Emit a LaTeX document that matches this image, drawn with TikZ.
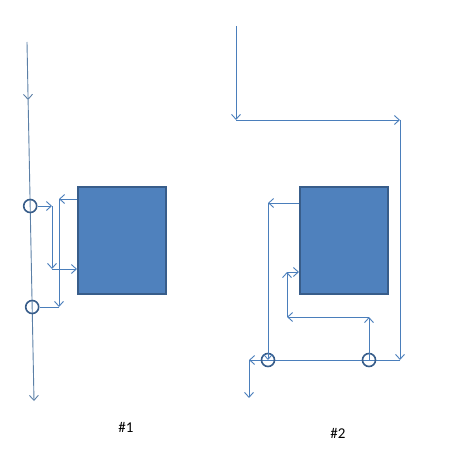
\documentclass[tikz,border=0pt]{standalone}
\usepackage{fontspec}
\setmainfont{Carlito}
\usetikzlibrary{arrows.meta}
\definecolor{boxfill}{HTML}{4F81BD}
\definecolor{boxline}{HTML}{385D8A}
\definecolor{connc}{HTML}{4A7EBB}
\definecolor{mainc}{HTML}{5B7FA6}
\tikzset{
  blk/.style={draw=boxline, fill=boxfill, line width=1.5pt, minimum width=88pt, minimum height=107pt, inner sep=0pt, anchor=north west},
  ring/.style={circle, draw=boxline, line width=1.6pt, minimum size=13pt, inner sep=0pt},
  conn/.style={draw=connc, line width=0.9pt},
  tip/.style={conn, -{Straight Barb[length=5pt,width=9pt]}},
  lbl/.style={font=\fontsize{15}{18}\selectfont, text=black}
}
\begin{document}
\begin{tikzpicture}[x=1pt,y=-1pt]
\useasboundingbox (0,0) rectangle (454,468);
% diagram 1
\node[blk] (r1) at (77,186) {};
\coordinate (t1) at (27,42);
\coordinate (m1) at (28.1,100);
\coordinate (b1) at (34,401);
\draw[tip, draw=mainc] (t1) -- (m1);
\draw[tip, draw=mainc] (m1) -- (b1);
\node[ring] (c1) at (30.2,206) {};
\node[ring] (c2) at (32.2,307) {};
\coordinate (a1) at (52,206);
\coordinate (a2) at (52,269);
\coordinate (a3) at (77,269);
\draw[tip] (c1) -- (a1);
\draw[tip] (a1) -- (a2);
\draw[tip] (a2) -- (a3);
\coordinate (d1) at (77,199);
\coordinate (d2) at (59,199);
\coordinate (d3) at (59,307);
\draw[tip] (d1) -- (d2);
\draw[tip] (d2) -- (d3);
\draw[conn] (d3) -- (c2);
\node[lbl] (l1) at (126,427) {\#1};
% diagram 2
\node[blk] (r2) at (299,186) {};
\coordinate (t2) at (236,26);
\coordinate (e1) at (236,120);
\coordinate (e2) at (400,120);
\coordinate (e3) at (400,360);
\coordinate (e4) at (249,360);
\coordinate (e5) at (249,398);
\draw[tip] (t2) -- (e1);
\draw[tip] (e1) -- (e2);
\draw[tip] (e2) -- (e3);
\draw[tip] (e3) -- (e4);
\draw[tip] (e4) -- (e5);
\node[ring] (c3) at (268,360) {};
\node[ring] (c4) at (369,360) {};
\coordinate (f1) at (299,203);
\coordinate (f2) at (268,203);
\draw[tip] (f1) -- (f2);
\draw[tip] (f2) -- (c3.center);
\coordinate (g1) at (369,317);
\coordinate (g2) at (287,317);
\coordinate (g3) at (287,272);
\coordinate (g4) at (299,272);
\draw[tip] (c4.center) -- (g1);
\draw[tip] (g1) -- (g2);
\draw[tip] (g2) -- (g3);
\draw[tip] (g3) -- (g4);
\node[lbl] (l2) at (338,433) {\#2};
\end{tikzpicture}
\end{document}
